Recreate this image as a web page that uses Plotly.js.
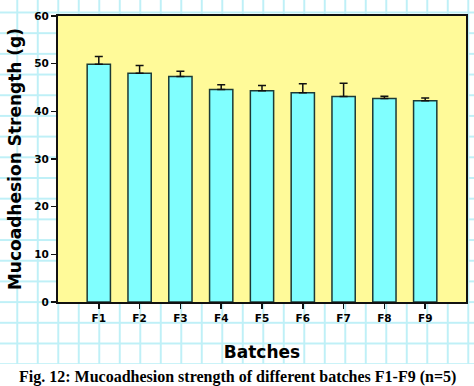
<!DOCTYPE html>
<html>
<head>
<meta charset="utf-8">
<script src="https://cdn.plot.ly/plotly-3.0.1.min.js"></script>
<style>
  html, body { margin: 0; padding: 0; background: #ffffff; }
  #wrap { position: relative; width: 474px; height: 386px; overflow: hidden; }
  #grid {
    position: absolute; left: 0; top: 0; width: 474px; height: 364px;
    background-image:
      linear-gradient(to right, #bff0f7 0, #bff0f7 1.5px, transparent 1.5px),
      linear-gradient(to bottom, #bff0f7 0, #bff0f7 1.5px, transparent 1.5px);
    background-size: 20.5px 20.7px;
    background-position: 16.3px 11.5px;
  }
  #chart { position: absolute; left: 0; top: 0; width: 474px; height: 386px; }
</style>
</head>
<body>
<div id="wrap">
  <div id="grid"></div>
  <div id="chart"></div>
</div>
<script>
const categories = ["F1", "F2", "F3", "F4", "F5", "F6", "F7", "F8", "F9"];
const strength = [49.9, 48.0, 47.3, 44.6, 44.3, 43.9, 43.1, 42.7, 42.2];
const errorPlus = [1.6, 1.6, 1.1, 1.0, 1.1, 1.9, 2.8, 0.45, 0.6];
const errorMinus = [0, 0, 0, 0, 0, 0, 0, 0, 0];
const yTicks = [0, 10, 20, 30, 40, 50, 60];
const xTitle = "Batches";
const yTitle = "Mucoadhesion Strength (g)";
const caption = "Fig. 12: Mucoadhesion strength of different batches F1-F9 (n=5)";

const trace = {
  type: "bar",
  x: categories,
  y: strength,
  width: 0.57,
  marker: { color: "#80ffff", line: { color: "#1c3a36", width: 1.5 } },
  error_y: {
    type: "data", symmetric: false, array: errorPlus, arrayminus: errorMinus,
    color: "#111111", thickness: 1.5, width: 4
  },
  hoverinfo: "skip"
};

const tickFont = { family: "DejaVu Sans", size: 10.5, color: "#000000", weight: "bold" };

const layout = {
  width: 474, height: 386,
  margin: { l: 58, r: 8, t: 16, b: 84 },
  paper_bgcolor: "rgba(0,0,0,0)",
  plot_bgcolor: "#fffa99",
  showlegend: false,
  xaxis: {
    type: "category",
    range: [-1, 9],
    showline: true, linecolor: "#111111", linewidth: 2, mirror: true,
    ticks: "outside", ticklen: 5, tickwidth: 1.5, tickcolor: "#111111",
    showgrid: false, zeroline: false,
    tickfont: tickFont,
    title: { text: xTitle, font: { family: "DejaVu Sans", size: 17, color: "#000000", weight: "bold" }, standoff: 24 },
    fixedrange: true
  },
  yaxis: {
    range: [0, 60],
    tickvals: yTicks,
    showline: true, linecolor: "#111111", linewidth: 2, mirror: true,
    ticks: "outside", ticklen: 5, tickwidth: 1.5, tickcolor: "#111111",
    showgrid: false, zeroline: false,
    tickfont: tickFont,
    title: { text: yTitle, font: { family: "DejaVu Sans", size: 17, color: "#000000", weight: "bold" }, standoff: 8 },
    fixedrange: true
  },
  annotations: [{
    text: caption, xref: "paper", yref: "paper",
    x: 0.5, y: 0, yshift: -86, xanchor: "center", yanchor: "bottom",
    xshift: -25,
    showarrow: false,
    font: { family: "Liberation Serif", size: 16, color: "#000000", weight: "bold" }
  }]
};

Plotly.newPlot("chart", [trace], layout, { displayModeBar: false, staticPlot: true });
</script>
</body>
</html>
